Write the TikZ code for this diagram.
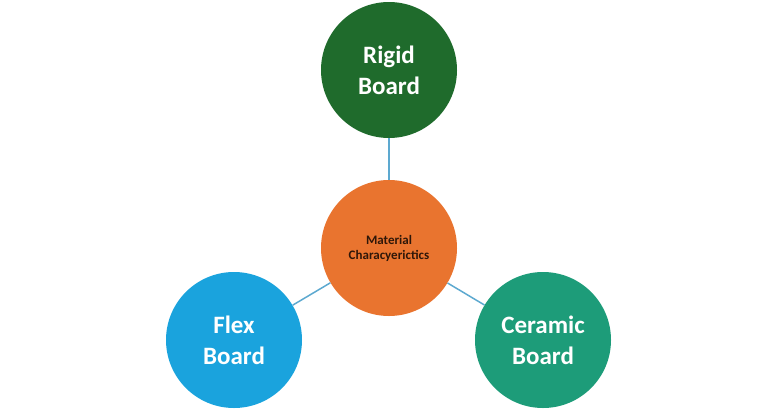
\documentclass[tikz,border=0pt]{standalone}
\usepackage{fontspec}
\setmainfont{Carlito}
\definecolor{rigidgreen}{HTML}{1F6B2C}
\definecolor{coreorange}{HTML}{E9742F}
\definecolor{flexblue}{HTML}{1AA3DD}
\definecolor{ceramteal}{HTML}{1D9C79}
\definecolor{linkblue}{HTML}{5DA9D0}
\begin{document}
\begin{tikzpicture}[x=1pt,y=-1pt,
  board/.style={circle, minimum size=136pt, inner sep=0pt, text=white,
    font=\bfseries\fontsize{25}{31}\selectfont, align=center},
  link/.style={draw=linkblue, line width=1.5pt}]
  \useasboundingbox (0,0) rectangle (768,416);
  \node[board, fill=rigidgreen] (rigid) at (389,70) {Rigid\\Board};
  \node[board, fill=coreorange, text={black!80!coreorange}, font=\bfseries\fontsize{13}{15}\selectfont] (core) at (389,248) {Material\\Characyerictics};
  \node[board, fill=flexblue] (flex) at (234,340) {Flex\\Board};
  \node[board, fill=ceramteal] (ceramic) at (543,340) {Ceramic\\Board};

  %% links
  \draw[link] (core) -- (rigid);
  \draw[link] (core) -- (flex);
  \draw[link] (core) -- (ceramic);
\end{tikzpicture}
\end{document}
